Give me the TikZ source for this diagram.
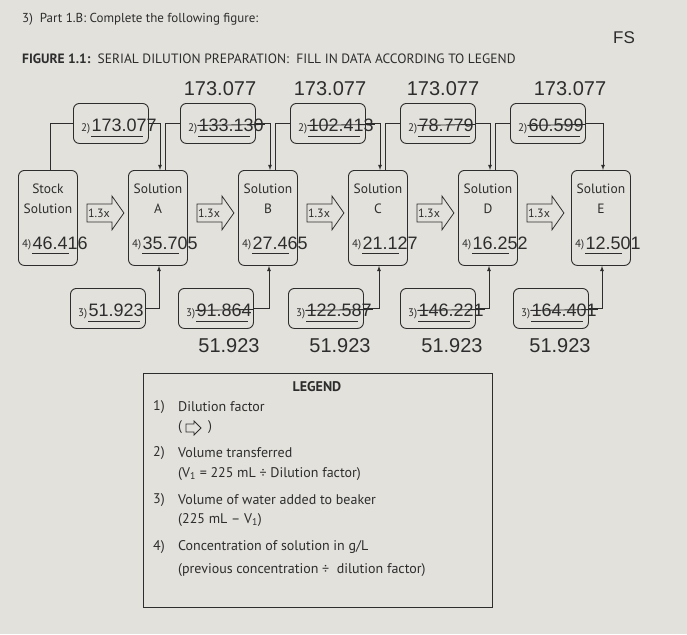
\documentclass[tikz,border=0pt]{standalone}
\usepackage{fontspec}
\setmainfont{PT Sans}
\newfontfamily\hand{Liberation Sans}
\usetikzlibrary{calc}
\definecolor{paper}{RGB}{226,225,220}
\definecolor{ink}{RGB}{45,45,45}
\begin{document}
\begin{tikzpicture}[x=1pt,y=-1pt,
  sol/.style={draw=ink,line width=0.9pt,rounded corners=6pt,minimum width=59pt,minimum height=95pt,inner sep=0pt},
  small/.style={draw=ink,line width=0.9pt,rounded corners=6pt,minimum width=75pt,minimum height=40pt,inner sep=0pt},
  conn/.style={draw=ink,line width=0.8pt},
  arr/.style={conn,-latex},
  hw/.style={font=\hand\fontsize{18}{18}\selectfont,text=ink,inner sep=0pt},
  lab/.style={font=\fontsize{13.5}{14}\selectfont,inner sep=0pt,text=ink},
  leg/.style={font=\fontsize{14}{15}\selectfont,inner sep=0pt,anchor=west,text=ink}]
\fill[paper] (0,0) rectangle (687,634);
\useasboundingbox (0,0) rectangle (687,634);
\node[anchor=west,font=\fontsize{13}{14}\selectfont,text=ink,inner sep=0pt] (title) at (22,19) {3)\ \ Part 1.B: Complete the following figure:};
\node[anchor=west,font=\fontsize{13.5}{14}\selectfont,text=ink,inner sep=0pt] (fig) at (22,59) {\textbf{FIGURE 1.1:}\ \ SERIAL DILUTION PREPARATION:\ \ FILL IN DATA ACCORDING TO LEGEND};
\node[hw,font=\hand\fontsize{17}{17}\selectfont] (fs) at (624,38) {FS};
% solution boxes
\foreach \n/\x/\a/\b/\v in {s/18/Stock/Solution/46.416,a/128/Solution/A/35.705,b/238/Solution/B/27.465,c/348/Solution/C/21.127,d/458/Solution/D/16.252,e/571/Solution/E/12.501}{
  \node[sol,anchor=north west] (\n) at (\x,170) {};
  \node[lab] (\n1) at ($(\n.north)+(0,19)$) {\a};
  \node[lab] (\n2) at ($(\n.north)+(0,39)$) {\b};
  \node[lab,anchor=west,font=\fontsize{11}{11}\selectfont] (\n4) at ($(\n.north west)+(4,75)$) {4)};
  \node[hw,anchor=west] (\n5) at ($(\n4.east)+(1,-2)$) {\v};
  \draw[ink,line width=0.6pt] ($(\n4.east)+(1,8)$) -- ($(\n4.east)+(38,8)$);
}
% top boxes (volume transferred)
\foreach \n/\x/\v/\st in {t1/73/173.077/0,t2/180/133.130/1,t3/290/102.413/1,t4/400/78.779/1,t5/510/60.599/1}{
  \node[small,anchor=north west] (\n) at (\x,103) {};
  \node[lab,anchor=west,font=\fontsize{11}{11}\selectfont] (\n l) at ($(\n.west)+(8,5)$) {2)};
  \node[hw,anchor=west] (\n v) at ($(\n l.east)+(1,-3)$) {\v};
  \draw[ink,line width=0.6pt] ($(\n l.east)+(1,8)$) -- ($(\n.east)+(-6,13)$);
  \ifnum\st=1 \draw[ink,line width=0.9pt] ($(\n v.west)+(-1,0)$) -- ($(\n v.east)+(1,-1)$);\fi
}
% bottom boxes (water added)
\foreach \n/\x/\v/\st in {w1/70/51.923/0,w2/178/91.864/1,w3/288/122.587/1,w4/400/146.221/1,w5/513/164.401/1}{
  \node[small,anchor=north west] (\n) at (\x,288) {};
  \node[lab,anchor=west,font=\fontsize{11}{11}\selectfont] (\n l) at ($(\n.west)+(8,5)$) {3)};
  \node[hw,anchor=west] (\n v) at ($(\n l.east)+(1,-3)$) {\v};
  \draw[ink,line width=0.6pt] ($(\n l.east)+(1,8)$) -- ($(\n.east)+(-6,13)$);
  \ifnum\st=1 \draw[ink,line width=0.9pt] ($(\n v.west)+(-1,0)$) -- ($(\n v.east)+(1,-1)$);\fi
}
% handwritten extras
\foreach \n/\x in {h1/220,h2/330,h3/443,h4/570}{\node[hw,font=\hand\fontsize{20}{20}\selectfont] (\n) at (\x,89) {173.077};}
\foreach \n/\x in {g1/229,g2/340,g3/452,g4/560}{\node[hw,font=\hand\fontsize{20}{20}\selectfont] (\n) at (\x,346) {51.923};}
% connectors
\foreach \p/\t/\q/\w/\o in {s/t1/a/w1/32,a/t2/b/w2/37,b/t3/c/w3/37,c/t4/d/w4/37,d/t5/e/w5/37}{
  \draw[conn] ($(\p.north west)+(\o,0)$) |- (\t.west);
  \draw[arr] (\t.east) -| ($(\q.north west)+(32,0)$);
  \draw[arr] (\w.east) -| ($(\q.south west)+(31,0)$);
}
% block arrows
\foreach \n/\p in {k1/s,k2/a,k3/b,k4/c,k5/d}{
  \coordinate (\n) at ($(\p.east)+(9,-5)$);
  \draw[ink,line width=0.8pt,fill=paper] (\n) ++(0,-9) -- ++(25,0) -- ++(0,-8) -- ++(12,17) -- ++(-12,17) -- ++(0,-8) -- ++(-25,0) -- cycle;
  \node[lab,font=\fontsize{12}{12}\selectfont,anchor=west] (\n t) at ($(\n)+(1,0)$) {1.3x};
}
% legend
\node[draw=ink,line width=0.9pt,minimum width=349pt,minimum height=234pt,anchor=north west] (legend) at (143,373) {};
\node[font=\bfseries\fontsize{14}{15}\selectfont,text=ink,inner sep=0pt] (lt) at (317,387) {LEGEND};
\foreach \n/\y/\t in {n1/407/1),n2/453/2),n3/500/3),n4/547/4)}{\node[leg] (\n) at (153,\y) {\t};}
\node[leg] (l1) at (178,407) {Dilution factor};
\node[leg] (l1b) at (178,427) {(\phantom{MMi})};
\draw[ink,line width=0.8pt] (186,424) -- ++(8,0) -- ++(0,-3) -- ++(7,7) -- ++(-7,7) -- ++(0,-3) -- ++(-8,0) -- cycle;
\node[leg] (l2) at (178,453) {Volume transferred};
\node[leg] (l2b) at (178,474) {(V\textsubscript{1} = 225 mL ÷ Dilution factor)};
\node[leg] (l3) at (178,500) {Volume of water added to beaker};
\node[leg] (l3b) at (178,520) {(225 mL – V\textsubscript{1})};
\node[leg] (l4) at (178,547) {Concentration of solution in g/L};
\node[leg] (l4b) at (178,570) {(previous concentration ÷\ \ dilution factor)};
\end{tikzpicture}
\end{document}
